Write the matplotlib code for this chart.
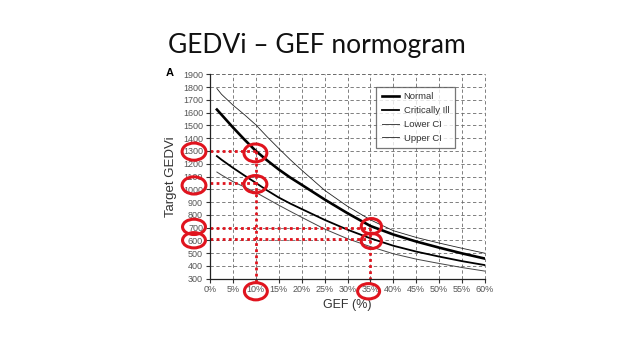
import matplotlib
matplotlib.use("Agg")
import matplotlib.pyplot as plt
from matplotlib.patches import Ellipse

# ---- data ----
gef = [1.5, 2.5, 5, 7.5, 10, 12.5, 15, 17.5, 20, 25, 30, 35, 40, 45, 50, 55, 60]
normal = [1625, 1585, 1485, 1390, 1300, 1225, 1155, 1092, 1035, 920, 812, 712, 645, 590, 542, 497, 456]
critically_ill = [1260, 1232, 1168, 1108, 1050, 990, 935, 888, 845, 760, 683, 615, 557, 511, 472, 436, 405]
lower_ci = [1135, 1112, 1060, 1018, 975, 925, 875, 827, 780, 688, 612, 550, 494, 452, 418, 386, 358]
upper_ci = [1790, 1745, 1660, 1585, 1505, 1410, 1320, 1232, 1150, 992, 866, 760, 675, 622, 578, 537, 498]

x_ticks = [0, 5, 10, 15, 20, 25, 30, 35, 40, 45, 50, 55, 60]
x_tick_labels = ["0%", "5%", "10%", "15%", "20%", "25%", "30%", "35%",
                 "40%", "45%", "50%", "55%", "60%"]
y_ticks = list(range(300, 2000, 100))

# annotation readings
read_gef = [10, 35]
read_normal = [1300, 700]
read_ci = [1050, 607]

plt.rcParams['font.family'] = ['Liberation Sans', 'DejaVu Sans']

fig = plt.figure(figsize=(6.38, 3.59), dpi=100)
fig.patch.set_facecolor('white')

fig.text(0.497, 0.873, "GEDVi – GEF normogram", ha='center', va='center',
         fontsize=19, family=['Lato', 'DejaVu Sans'], color='#111111')

ax = fig.add_axes([0.3292, 0.2242, 0.4310, 0.5683])
ax.set_xlim(0, 60)
ax.set_ylim(300, 1900)

grid_style = dict(color='#6a6a6a', linestyle=(0, (4, 3)), linewidth=0.6)

ax.set_xticks(x_ticks)
ax.set_xticklabels(x_tick_labels)
ax.set_yticks(y_ticks)
ax.tick_params(axis='both', labelsize=6.5, labelcolor='#555555', color='#333333',
               length=3, width=0.8, direction='out', pad=2)
ax.grid(True, **grid_style)
for s in ['top', 'right']:
    ax.spines[s].set_visible(False)
for s in ['left', 'bottom']:
    ax.spines[s].set_color('#222222')
    ax.spines[s].set_linewidth(0.9)
ax.axhline(1900, clip_on=False, **grid_style)
ax.axvline(60, clip_on=False, **grid_style)

ax.plot(gef, normal, color='black', linewidth=1.9, label='Normal')
ax.plot(gef, critically_ill, color='black', linewidth=1.3, label='Critically Ill')
ax.plot(gef, lower_ci, color='#444444', linewidth=0.7, label='Lower CI')
ax.plot(gef, upper_ci, color='#222222', linewidth=0.6, label='Upper CI')

leg = ax.legend(loc='upper left', bbox_to_anchor=(0.604, 0.940), borderaxespad=0,
                fontsize=6.8, frameon=True, fancybox=False, edgecolor='#555555',
                handlelength=1.8, handletextpad=0.5, borderpad=0.6, labelspacing=0.5)
leg.get_frame().set_linewidth(0.9)
for t in leg.get_texts():
    t.set_color('#333333')

ax.set_ylabel("Target GEDVi", fontsize=9.5, color='#333333', labelpad=4)
ax.set_xlabel("GEF (%)", fontsize=9, color='#333333', labelpad=3)
fig.text(0.266, 0.797, "A", fontsize=8, fontweight='bold', ha='center', va='center')

# red annotations
red = '#e0141e'
dot = (0, (1, 1.2))
label_x = -3.5
for g, n, c in zip(read_gef, read_normal, read_ci):
    ax.plot([0, g], [n, n], color=red, linestyle=dot, linewidth=2, clip_on=False)
    ax.plot([0, g], [c, c], color=red, linestyle=dot, linewidth=2, clip_on=False)
    ax.plot([g, g], [n, 265], color=red, linestyle=dot, linewidth=2, clip_on=False)

ell_specs = [
    (label_x, 1295, 5.2, 135), (label_x, 1030, 5.2, 135),
    (label_x, 705, 5.0, 120), (label_x, 600, 5.0, 120),
    (9.9, 1285, 5.0, 140), (9.9, 1040, 5.0, 135),
    (35.2, 710, 4.4, 120), (35.2, 595, 4.4, 120),
    (10.0, 200, 5.0, 135), (34.6, 200, 4.8, 120),
]
for (cx, cy, w, h) in ell_specs:
    ax.add_patch(Ellipse((cx, cy), w, h, fill=False, edgecolor=red, linewidth=2.2,
                         clip_on=False, zorder=5))

fig.savefig("out.png", dpi=100, facecolor='white')
